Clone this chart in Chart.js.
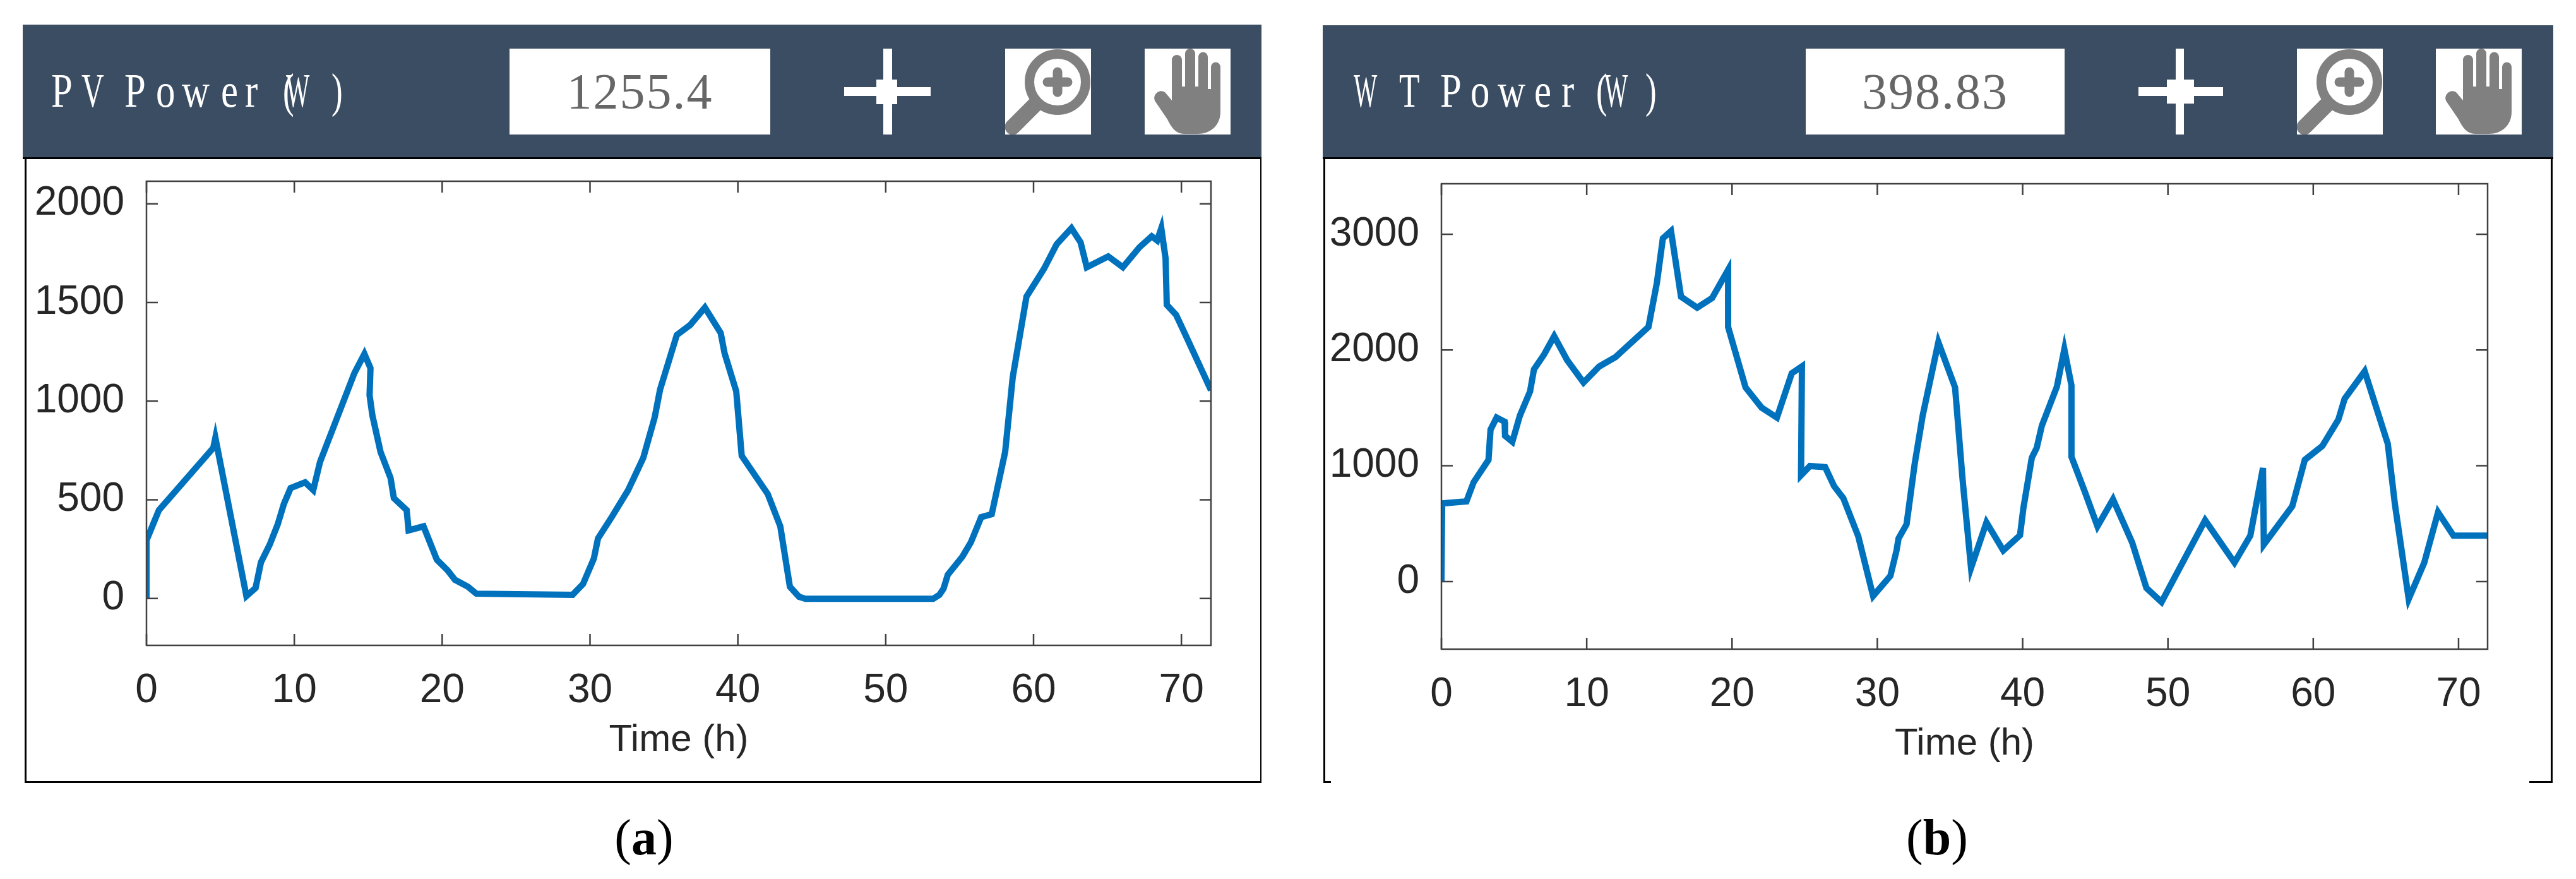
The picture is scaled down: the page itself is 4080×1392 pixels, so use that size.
<!DOCTYPE html>
<html lang="en">
<head>
<meta charset="UTF-8">
<title>PV and WT power</title>
<script src="https://cdn.jsdelivr.net/npm/chart.js"></script>
<style>
html, body { margin: 0; padding: 0; background: #fff; }
#page { position: relative; width: 4080px; height: 1392px; overflow: hidden; }
#page > * { position: absolute; }
.header { background: #3b4d63; }
.ch { color: #fff; font: 76px/1 "Liberation Serif", serif; top: 105px; transform-origin: 0 0; white-space: pre; }
.box { background: #fff; top: 77px; height: 136px; }
.value { color: #666; font: 80px/136px "Liberation Serif", serif; text-align: center; letter-spacing: 2px; }
.bar { background: #fff; }
.line { background: #000; }
.caption { font: 80px/1 "Liberation Serif", serif; color: #000; top: 1286px; transform: translateX(-50%); }
svg { top: 77px; width: 136px; height: 136px; background: #fff; }
canvas { display: block; }
</style>
</head>
<body>
<div id="page">
	<!-- panel a -->
	<div class="header" style="left:36px;top:39px;width:1962px;height:211px"></div>
	<div class="box value" style="left:807px;width:413px">1255.4</div>
	<div class="bar" style="left:1399px;top:77px;width:14px;height:136px"></div>
	<div class="bar" style="left:1337px;top:138px;width:137px;height:14px"></div>
	<div class="bar" style="left:1388px;top:126px;width:33px;height:39px"></div>
	<svg style="left:1592px" viewBox="0 0 136 136"><use href="#lens"/></svg>
	<svg style="left:1813px" viewBox="0 0 136 136"><use href="#hand"/></svg>
	<div class="line" style="left:36px;top:249px;width:1962px;height:3px"></div>
	<div class="line" style="left:39px;top:250px;width:3px;height:990px"></div>
	<div class="line" style="left:1996px;top:250px;width:2px;height:990px"></div>
	<div class="line" style="left:39px;top:1237px;width:1959px;height:3px"></div>
	<canvas id="pvChart" width="1954" height="984" style="left:42px;top:252px"></canvas>
	<div class="caption" style="left:1020px">(<b>a</b>)</div>

	<!-- panel b -->
	<div class="header" style="left:2095px;top:40px;width:1949px;height:210px"></div>
	<div class="box value" style="left:2860px;width:410px">398.83</div>
	<div class="bar" style="left:3446px;top:77px;width:13px;height:136px"></div>
	<div class="bar" style="left:3387px;top:138px;width:134px;height:14px"></div>
	<div class="bar" style="left:3432px;top:126px;width:43px;height:38px"></div>
	<svg style="left:3638px" viewBox="0 0 136 136"><use href="#lens"/></svg>
	<svg style="left:3858px" viewBox="0 0 136 136"><use href="#hand"/></svg>
	<div class="line" style="left:2095px;top:249px;width:1949px;height:3px"></div>
	<div class="line" style="left:2096px;top:250px;width:3px;height:990px"></div>
	<div class="line" style="left:4040px;top:250px;width:3px;height:990px"></div>
	<div class="line" style="left:2096px;top:1237px;width:12px;height:3px"></div>
	<div class="line" style="left:4006px;top:1237px;width:37px;height:3px"></div>
	<canvas id="wtChart" width="1941" height="984" style="left:2099px;top:252px"></canvas>
	<div class="caption" style="left:3068px">(<b>b</b>)</div>

	<svg style="width:0;height:0;left:0;top:0">
		<defs>
			<g id="lens">
				<path d="M46 90 L12 124" stroke="#808080" stroke-width="25" stroke-linecap="round"/>
				<circle cx="83" cy="53" r="44.5" fill="none" stroke="#808080" stroke-width="15"/>
				<path d="M67 53 H99 M83 37 V69" stroke="#808080" stroke-width="15" stroke-linecap="round"/>
			</g>
			<g id="hand">
				<path d="M43 82 L43 18 A8 8 0 0 1 59 18 L59 60 L64 60 L64 8 A8 8 0 0 1 80 8 L80 60 L85 60 L85 13 A7.5 7.5 0 0 1 100 13 L100 64 L105 64 L105 29 A7.5 7.5 0 0 1 120 29 L120 100 C120 122 104 135 84 135 L62 135 C50 135 42 125 36 112 L17 84 C10 72 26 62 33 70 Z" fill="#808080"/>
			</g>
		</defs>
	</svg>
</div>
<script>
	var xTicks = [0, 10, 20, 30, 40, 50, 60, 70];
	var pvTicks = [0, 500, 1000, 1500, 2000];
	var wtTicks = [0, 1000, 2000, 3000];
	var xTitle = 'Time (h)';

	var pvHours = [0, 0, 0.84, 4.52, 4.66, 6.76, 7.38, 7.74, 8.34, 8.88, 9.29, 9.75, 10.73, 11.28, 11.74, 14.06, 14.74, 15.15, 15.09, 15.28, 15.83, 16.51, 16.73, 17.6, 17.73, 18.74, 19.64, 20.38, 20.87, 21.74, 22.31, 28.82, 29.53, 30.26, 30.54, 31.5, 32.58, 33.6, 34.37, 34.74, 35.87, 36.78, 37.77, 38.84, 39.1, 39.89, 40.26, 42.02, 42.87, 43.52, 44.14, 44.57, 53.21, 53.63, 53.91, 54.2, 55.19, 55.76, 56.46, 57.17, 58.08, 58.59, 59.52, 60.71, 61.56, 62.56, 63.18, 63.6, 65.05, 66.04, 67.17, 67.99, 68.36, 68.64, 68.93, 69.01, 69.64, 70.34, 72];
	var pvPower = [0, 294, 447, 763, 814, 12, 53, 182, 273, 376, 478, 559, 588, 549, 692, 1141, 1239, 1167, 1029, 927, 743, 610, 508, 447, 345, 365, 196, 141, 94, 59, 24, 18, 73, 202, 304, 416, 549, 712, 916, 1059, 1335, 1386, 1474, 1345, 1243, 1049, 723, 529, 365, 59, 8, -2, -2, 18, 49, 120, 212, 284, 412, 427, 743, 1120, 1529, 1671, 1794, 1876, 1804, 1678, 1733, 1678, 1780, 1835, 1814, 1876, 1723, 1488, 1437, 1325, 1055];

	var wtHours = [0, 0.05, 1.72, 2.22, 3.24, 3.38, 3.8, 4.35, 4.38, 4.88, 5.4, 6.1, 6.37, 7.07, 7.76, 8.65, 9.78, 10.86, 11.97, 14.25, 14.83, 15.24, 15.8, 16.49, 17.6, 18.63, 19.73, 19.73, 20.93, 22.03, 23.09, 24.11, 24.81, 24.75, 25.36, 26.41, 27.02, 27.66, 28.69, 29.71, 30.9, 31.32, 31.46, 32.01, 32.57, 33.12, 34.2, 35.35, 35.87, 36.45, 37.51, 38.67, 39.82, 40.05, 40.63, 40.97, 41.32, 42.36, 42.87, 43.36, 43.36, 44.29, 45.15, 46.22, 47.54, 48.52, 49.56, 52.56, 54.58, 55.67, 56.54, 56.6, 58.56, 59.42, 60.63, 61.73, 62.16, 63.54, 64.47, 65.13, 65.62, 66.57, 67.64, 68.59, 69.65, 72];
	var wtPower = [0, 675, 692, 859, 1051, 1312, 1416, 1381, 1259, 1207, 1433, 1642, 1833, 1962, 2119, 1913, 1719, 1858, 1938, 2199, 2581, 2964, 3027, 2460, 2366, 2449, 2693, 2199, 1677, 1503, 1416, 1799, 1858, 918, 998, 988, 825, 720, 390, -125, 49, 268, 372, 494, 1016, 1433, 2067, 1677, 877, 118, 511, 268, 400, 633, 1068, 1155, 1346, 1684, 2007, 1694, 1078, 772, 477, 710, 337, -56, -177, 529, 163, 397, 981, 320, 651, 1051, 1172, 1399, 1579, 1816, 1451, 1190, 668, -150, 163, 598, 397, 397];

	// the header titles have odd wide spacing, so each letter gets its own spot
	var narrow = {W: 0.52, V: 0.65, T: 0.7, '(': 0.7, ')': 0.7};
	function placeTitle(text, lefts) {
		var page = document.getElementById('page');
		text.split('').forEach(function(c, i) {
			var d = document.createElement('div');
			d.className = 'ch';
			d.textContent = c;
			d.style.left = lefts[i] + 'px';
			d.style.transform = 'scaleX(' + (narrow[c] || 0.8) + ')';
			page.appendChild(d);
		});
	}
	placeTitle('PVPower(W)', [81, 129, 197, 247, 288, 350, 388, 448, 453, 525]);
	placeTitle('WTPower(W)', [2144, 2216, 2281, 2329, 2372, 2430, 2473, 2528, 2541, 2606]);

	// axes are drawn like matlab: closed box with the ticks pointing inward
	var boxPlugin = {
		id: 'box',
		afterDatasetsDraw: function(chart) {
			var ctx = chart.ctx, a = chart.chartArea, len = 18;
			ctx.save();
			ctx.strokeStyle = '#404040';
			ctx.lineWidth = 2.5;
			ctx.strokeRect(a.left, a.top, a.right - a.left, a.bottom - a.top);
			ctx.beginPath();
			chart.scales.x.ticks.forEach(function(t) {
				var px = chart.scales.x.getPixelForValue(t.value);
				ctx.moveTo(px, a.top); ctx.lineTo(px, a.top + len);
				ctx.moveTo(px, a.bottom); ctx.lineTo(px, a.bottom - len);
			});
			chart.scales.y.ticks.forEach(function(t) {
				var py = chart.scales.y.getPixelForValue(t.value);
				ctx.moveTo(a.left, py); ctx.lineTo(a.left + len, py);
				ctx.moveTo(a.right, py); ctx.lineTo(a.right - len, py);
			});
			ctx.stroke();
			ctx.restore();
		}
	};

	function makeChart(id, hours, power, yTicks, yMin, yMax, pad, leftWidth) {
		var points = hours.map(function(h, i) { return {x: h, y: power[i]}; });
		var font = {family: '"Liberation Sans", sans-serif', size: 64};
		return new Chart(document.getElementById(id).getContext('2d'), {
			type: 'line',
			data: {datasets: [{
				data: points,
				borderColor: '#0072bd',
				borderWidth: 10,
				borderJoinStyle: 'miter',
				borderCapStyle: 'butt',
				pointRadius: 0,
				tension: 0,
				fill: false
			}]},
			options: {
				responsive: false,
				animation: false,
				plugins: {legend: {display: false}, tooltip: {enabled: false}},
				layout: {padding: pad},
				scales: {
					x: {
						type: 'linear',
						min: 0,
						max: 72,
						grid: {display: false},
						border: {display: false},
						afterBuildTicks: function(s) { s.ticks = xTicks.map(function(v) { return {value: v}; }); },
						afterFit: function(s) { s.height = 186; s.paddingLeft = 0; s.paddingRight = 0; },
						ticks: {font: font, color: '#262626', padding: 26, maxRotation: 0, autoSkip: false, callback: function(v) { return String(v); }},
						title: {display: true, text: xTitle, color: '#262626', padding: 0, font: {family: font.family, size: 60}}
					},
					y: {
						min: yMin,
						max: yMax,
						grid: {display: false},
						border: {display: false},
						afterBuildTicks: function(s) { s.ticks = yTicks.map(function(v) { return {value: v}; }); },
						afterFit: function(s) { s.width = leftWidth; s.paddingTop = 0; s.paddingBottom = 0; },
						ticks: {font: font, color: '#262626', padding: 27, autoSkip: false, callback: function(v) { return String(v); }}
					}
				}
			},
			plugins: [boxPlugin]
		});
	}

	makeChart('pvChart', pvHours, pvPower, pvTicks, -238, 2114, {left: 0, top: 35, right: 78, bottom: 28}, 190);
	makeChart('wtChart', wtHours, wtPower, wtTicks, -584, 3436, {left: 0, top: 39, right: 100, bottom: 22}, 184);
</script>
</body>
</html>
